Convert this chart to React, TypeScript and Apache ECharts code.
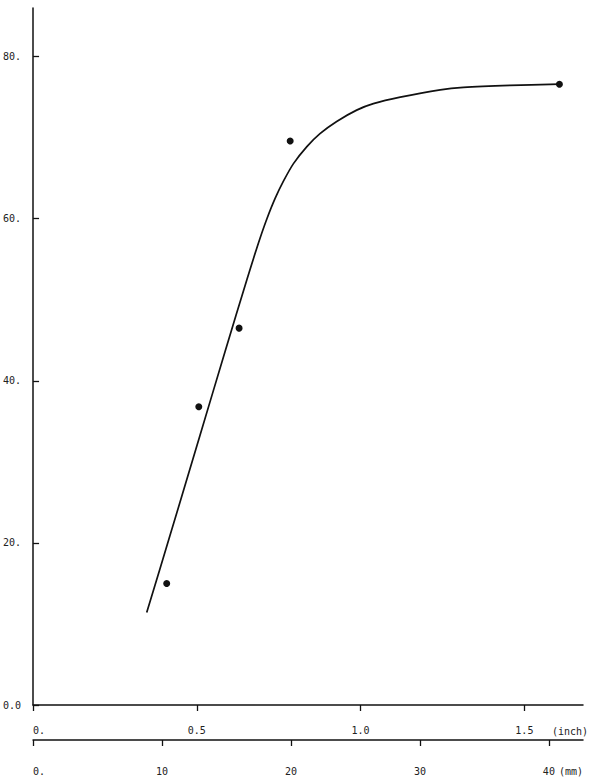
import React, { useEffect, useRef } from "react";
import * as echarts from "echarts";

const inchTicks = [0, 0.5, 1.0, 1.5];
const inchLabels = ["0.", "0.5", "1.0", "1.5"];
const mmTicks = [0, 10, 20, 30, 40];
const mmLabels = ["0.", "10", "20", "30", "40"];
const yTicks = [0, 20, 40, 60, 80];
const yLabels = ["0.0", "20.", "40.", "60.", "80."];

const curveX = [
  0.347, 0.418, 0.51, 0.586, 0.653, 0.673, 0.693, 0.714, 0.739, 0.764, 0.795, 0.836, 0.876, 0.927, 0.988,
  1.039, 1.121, 1.243, 1.314, 1.456, 1.607,
];
const curveY = [
  11.4, 20.9, 33.3, 43.6, 52.5, 55.1, 57.6, 60.0, 62.5, 64.6, 66.8, 68.9, 70.5, 72.0, 73.4,
  74.2, 75.0, 75.9, 76.2, 76.45, 76.6,
];

const pointX = [0.408, 0.506, 0.629, 0.785, 1.607];
const pointY = [15.0, 36.8, 46.5, 69.6, 76.6];

const INCH_MAX = 1.679;
const MM_PER_INCH = 25.4;

const FONT = "DejaVu Sans Mono";
const INK = "#111";

function labelFor(ticks: number[], labels: string[]) {
  return (v: number) => {
    const i = ticks.findIndex((t) => Math.abs(t - v) < 1e-6);
    return i >= 0 ? labels[i] : "";
  };
}

export default function App() {
  const ref = useRef<HTMLDivElement>(null);
  useEffect(() => {
    if (!ref.current) return;
    const chart = echarts.init(ref.current, undefined, { renderer: "svg" });
    const axisText = { fontFamily: FONT, fontSize: 10, color: "#222" };
    chart.setOption({
      animation: false,
      backgroundColor: "#fff",
      grid: { left: 33, top: 8, width: 550, height: 697, containLabel: false },
      xAxis: [
        {
          type: "value",
          min: 0,
          max: INCH_MAX,
          position: "bottom",
          splitLine: { show: false },
          axisLine: { show: true, lineStyle: { color: INK, width: 1.5 } },
          axisTick: { show: true, inside: false, length: 6, customValues: inchTicks, lineStyle: { color: INK, width: 1.3 } },
          axisLabel: {
            ...axisText,
            margin: 20,
            alignMinLabel: "left",
            customValues: inchTicks,
            formatter: labelFor(inchTicks, inchLabels),
          },
        },
        {
          type: "value",
          min: 0,
          max: INCH_MAX * MM_PER_INCH,
          position: "bottom",
          offset: 35,
          splitLine: { show: false },
          axisLine: { show: true, onZero: false, lineStyle: { color: INK, width: 1.5 } },
          axisTick: { show: true, inside: false, length: 6, customValues: mmTicks, lineStyle: { color: INK, width: 1.3 } },
          axisLabel: {
            ...axisText,
            margin: 26,
            alignMinLabel: "left",
            customValues: mmTicks,
            formatter: labelFor(mmTicks, mmLabels),
          },
        },
      ],
      yAxis: {
        type: "value",
        min: 0,
        max: 86,
        splitLine: { show: false },
        axisLine: { show: true, onZero: false, lineStyle: { color: INK, width: 1.5 } },
        axisTick: { show: true, inside: true, length: 6, customValues: yTicks, lineStyle: { color: INK, width: 1.3 } },
        axisLabel: { ...axisText, margin: 12, customValues: yTicks, formatter: labelFor(yTicks, yLabels) },
      },
      graphic: [
        { type: "text", left: 552, top: 726, style: { text: "(inch)", fontFamily: FONT, fontSize: 10, fill: "#222" } },
        { type: "text", left: 559, top: 766, style: { text: "(mm)", fontFamily: FONT, fontSize: 10, fill: "#222" } },
      ],
      series: [
        {
          type: "line",
          xAxisIndex: 0,
          data: curveX.map((x, i) => [x, curveY[i]]),
          symbol: "none",
          smooth: 0.3,
          lineStyle: { color: INK, width: 1.7 },
          silent: true,
        },
        {
          type: "scatter",
          xAxisIndex: 0,
          data: pointX.map((x, i) => [x, pointY[i]]),
          symbol: "circle",
          symbolSize: 7,
          itemStyle: { color: INK, opacity: 1 },
          silent: true,
        },
      ],
    });
    return () => chart.dispose();
  }, []);
  return (
    <div
      ref={ref}
      style={{ position: "fixed", left: 0, top: 0, width: 603, height: 784, background: "#fff" }}
    />
  );
}
